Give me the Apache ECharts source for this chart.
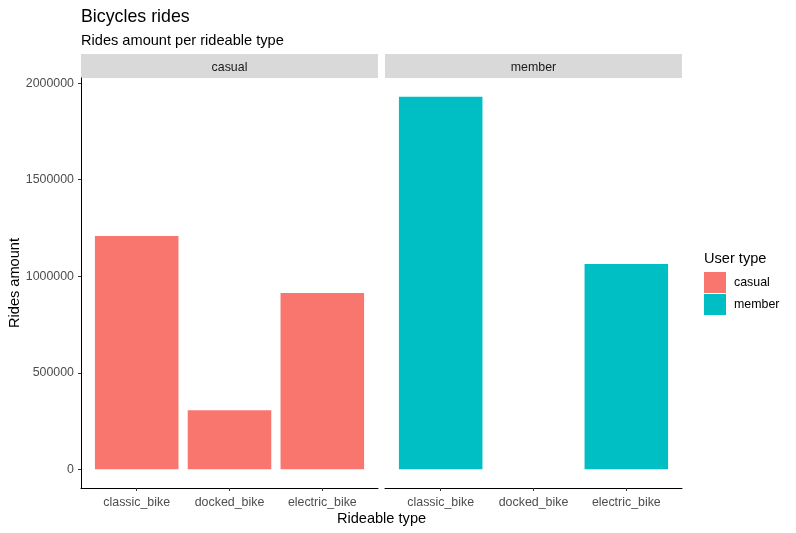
<!DOCTYPE html>
<html>
<head>
<meta charset="utf-8">
<script src="https://cdn.jsdelivr.net/npm/echarts@6/dist/echarts.min.js"></script>
<style>html,body{margin:0;padding:0;background:#fff}#c{width:796px;height:533px}</style>
</head>
<body>
<div id="c"></div>
<script>
const categories = ['classic_bike', 'docked_bike', 'electric_bike'];
const userTypes = ['casual', 'member'];
const casualRides = [1208000, 306000, 913000];
const memberRides = [1930000, 0, 1063000];
const yTicks = [0, 500000, 1000000, 1500000, 2000000];
const colors = ['#F8766D', '#00BFC4'];

const FONT = '"Liberation Sans", Arial, sans-serif';
const SMALL = 12.4;
const catPos = categories.map((c, i) => i + 1);
const maxVal = Math.max(...casualRides, ...memberRides);
const yMin = -0.05 * maxVal, yMax = 1.05 * maxVal;
const panelW = 297, panelH = 410, panelTop = 78;
const lefts = [81, 385];
const unit = panelW / 3.2;

function xAxis(gi) {
  return {
    type: 'value', gridIndex: gi, min: 0.4, max: 3.6,
    splitLine: { show: false },
    axisLine: { show: true, onZero: false, lineStyle: { color: '#000', width: 1 } },
    axisTick: { show: true, customValues: catPos, length: 3, lineStyle: { color: '#333' } },
    axisLabel: { customValues: catPos, margin: 9, color: '#4D4D4D', fontSize: SMALL, fontFamily: FONT,
      formatter: v => categories[Math.round(v) - 1] || '' }
  };
}
function yAxis(gi, show) {
  return {
    type: 'value', gridIndex: gi, min: yMin, max: yMax,
    splitLine: { show: false },
    axisLine: { show: show, onZero: false, lineStyle: { color: '#000', width: 1 } },
    axisTick: { show: show, customValues: yTicks, length: 3, lineStyle: { color: '#333' } },
    axisLabel: { show: show, customValues: yTicks, margin: 7, color: '#4D4D4D', fontSize: SMALL, fontFamily: FONT,
      formatter: v => String(Math.round(v)) }
  };
}

const chart = echarts.init(document.getElementById('c'), null, { renderer: 'canvas' });
chart.setOption({
  backgroundColor: '#fff',
  animation: false,
  grid: lefts.map(l => ({ left: l, top: panelTop, width: panelW, height: panelH })),
  xAxis: [xAxis(0), xAxis(1)],
  yAxis: [yAxis(0, true), yAxis(1, false)],
  legend: {
    orient: 'vertical', left: 704, top: 272, icon: 'rect', padding: 0,
    itemWidth: 22, itemHeight: 21, itemGap: 1,
    data: userTypes,
    textStyle: { fontSize: SMALL, color: '#000', fontFamily: FONT, padding: [4, 0, 0, 3] }
  },
  series: [
    { name: userTypes[0], type: 'bar', xAxisIndex: 0, yAxisIndex: 0, barWidth: unit * 0.9,
      itemStyle: { color: colors[0] }, data: casualRides.map((v, i) => [catPos[i], v]) },
    { name: userTypes[1], type: 'bar', xAxisIndex: 1, yAxisIndex: 1, barWidth: unit * 0.9,
      itemStyle: { color: colors[1] }, data: memberRides.map((v, i) => [catPos[i], v]) }
  ],
  graphic: [
    { type: 'text', left: 81, top: 8, style: { text: 'Bicycles rides', fontSize: 17.8, fill: '#000', fontFamily: FONT } },
    { type: 'text', left: 81, top: 33, style: { text: 'Rides amount per rideable type', fontSize: 14.6, fill: '#000', fontFamily: FONT } },
    { type: 'rect', shape: { x: lefts[0], y: 54, width: panelW, height: 24 }, style: { fill: '#D9D9D9' } },
    { type: 'rect', shape: { x: lefts[1], y: 54, width: panelW, height: 24 }, style: { fill: '#D9D9D9' } },
    { type: 'text', x: lefts[0] + panelW / 2, y: 67.5, style: { text: userTypes[0], fontSize: SMALL, fill: '#1A1A1A', fontFamily: FONT, align: 'center', verticalAlign: 'middle' } },
    { type: 'text', x: lefts[1] + panelW / 2, y: 67.5, style: { text: userTypes[1], fontSize: SMALL, fill: '#1A1A1A', fontFamily: FONT, align: 'center', verticalAlign: 'middle' } },
    { type: 'text', x: (lefts[0] + lefts[1] + panelW) / 2, y: 519, style: { text: 'Rideable type', fontSize: 14.6, fill: '#000', fontFamily: FONT, align: 'center', verticalAlign: 'middle' } },
    { type: 'text', x: 15, y: panelTop + panelH / 2, rotation: Math.PI / 2, style: { text: 'Rides amount', fontSize: 14.6, fill: '#000', fontFamily: FONT, align: 'center', verticalAlign: 'middle' } },
    { type: 'text', left: 704, top: 251, style: { text: 'User type', fontSize: 14.6, fill: '#000', fontFamily: FONT } }
  ]
});
</script>
</body>
</html>
